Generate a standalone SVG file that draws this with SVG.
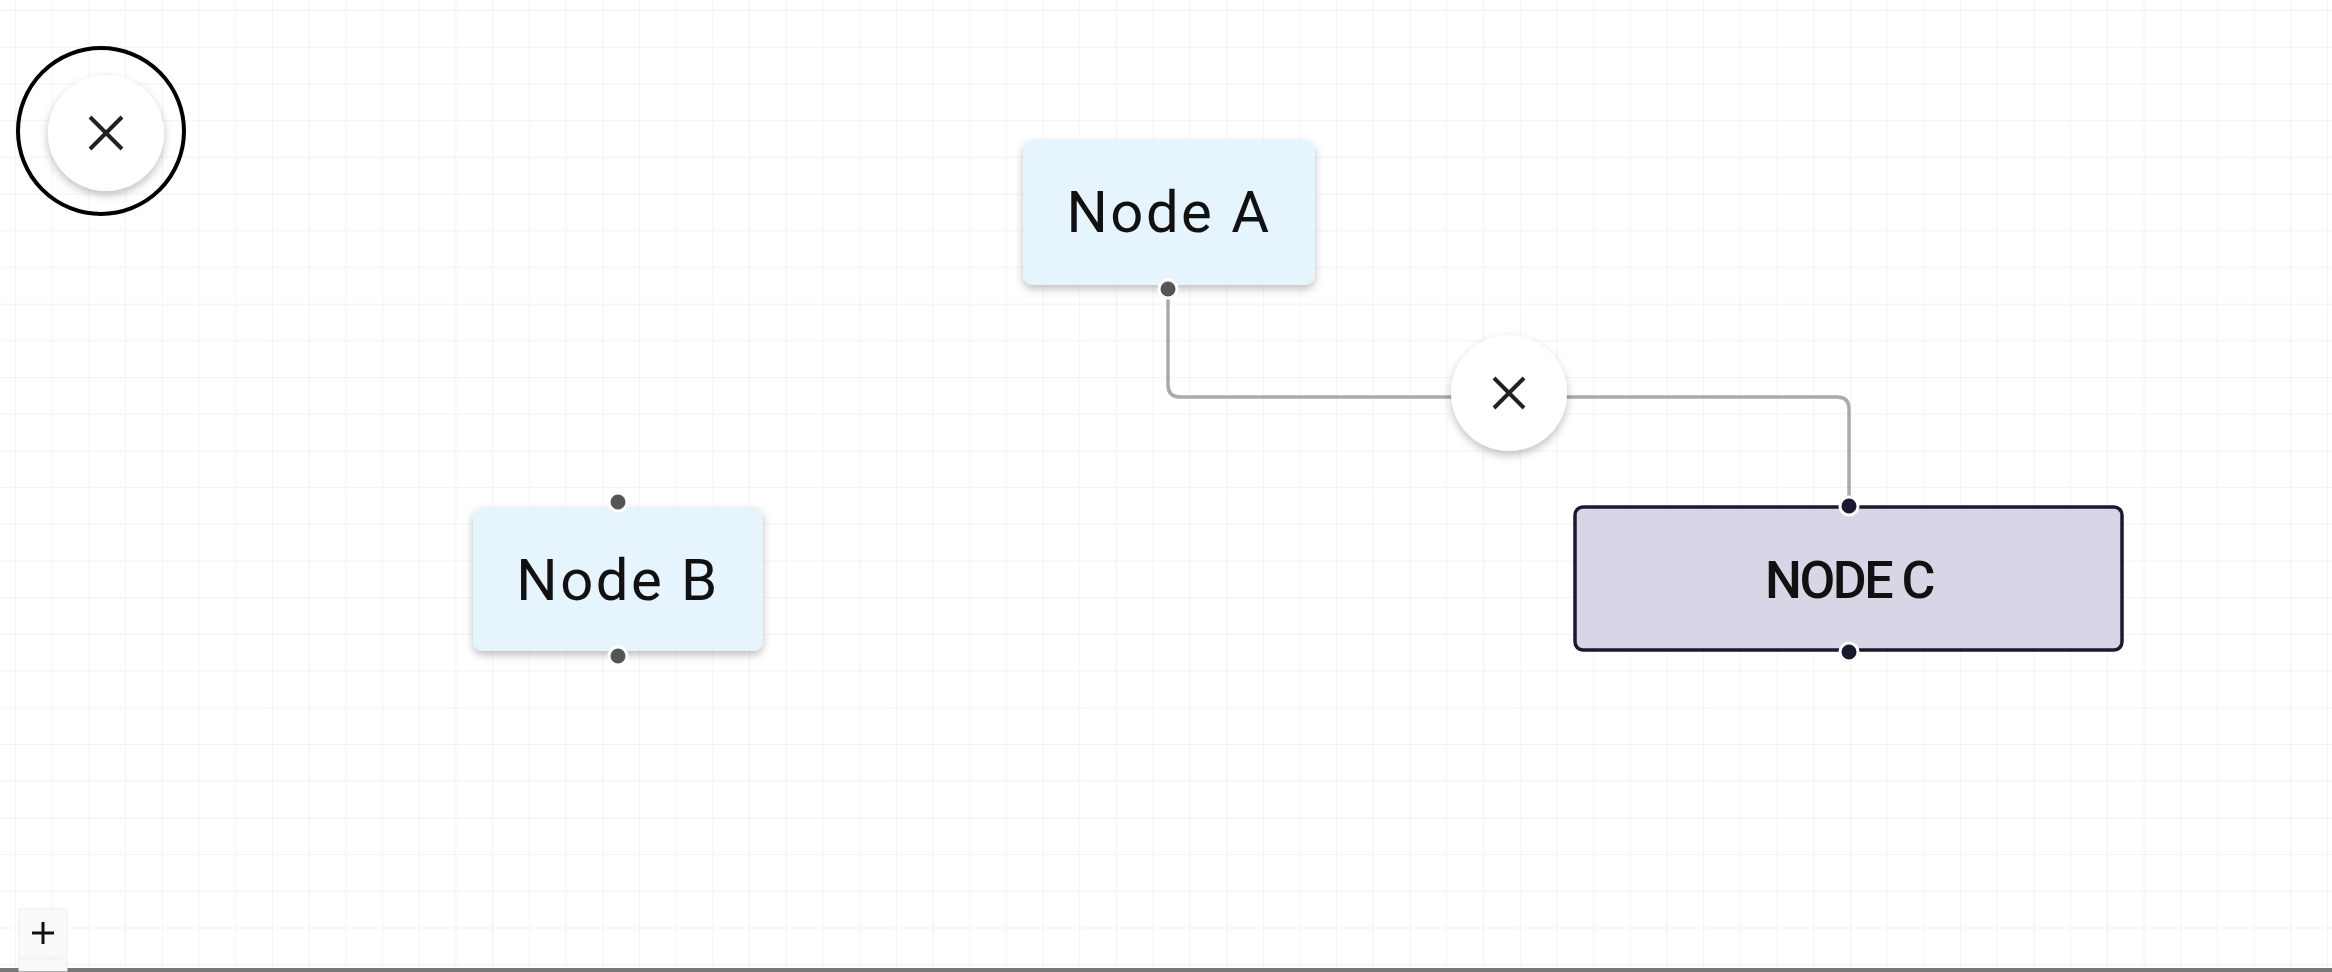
<svg xmlns="http://www.w3.org/2000/svg" width="2332" height="972" viewBox="0 0 2332 972">
<defs>
<pattern id="grid" x="15" y="10" width="36.7" height="36.7" patternUnits="userSpaceOnUse">
<path d="M0 0H36.7M0 0V36.7" fill="none" stroke="#efefef" stroke-width="1.5"/>
</pattern>
<filter id="sh" x="-30%" y="-30%" width="160%" height="160%">
<feDropShadow dx="0" dy="4" stdDeviation="4" flood-color="#000" flood-opacity="0.25"/>
</filter>
</defs>
<style>
.lbl{font-family:Roboto,"Liberation Sans",sans-serif;fill:#111;text-anchor:middle;dominant-baseline:central}
.x{stroke:#222;stroke-width:4;fill:none}
.pg{fill:#555;stroke:#fff;stroke-width:3}
.pd{fill:#1a1a2e;stroke:#fff;stroke-width:3}
</style>
<rect width="2332" height="972" fill="#fff"/>
<rect width="2332" height="972" fill="url(#grid)"/>
<rect x="0" y="968" width="2332" height="4" fill="#777"/>
<g id="close-button">
<circle cx="101" cy="131" r="83" fill="none" stroke="#000" stroke-width="4"/>
<circle cx="106" cy="133" r="58" fill="#fff" filter="url(#sh)"/>
<path class="x" d="M90 117L122 149M122 117L90 149"/>
</g>
<g id="connectors">
<path d="M1168 289V385Q1168 397 1180 397H1837Q1849 397 1849 409V506" fill="none" stroke="#aaa" stroke-width="3.5"/>
</g>
<g id="edge-button">
<circle cx="1509" cy="393" r="58" fill="#fff" filter="url(#sh)"/>
<path class="x" d="M1494 378L1524 408M1524 378L1494 408"/>
</g>
<g id="node-a">
<rect x="1023" y="140" width="292" height="145" rx="10" fill="#e5f4fd" filter="url(#sh)"/>
<text class="lbl" x="1169" y="212" font-size="58" letter-spacing="2.5">Node A</text>
<circle class="pg" cx="1168" cy="289" r="9"/>
</g>
<g id="node-b">
<rect x="473" y="507" width="290" height="144" rx="10" fill="#e5f4fd" filter="url(#sh)"/>
<text class="lbl" x="618" y="580" font-size="58" letter-spacing="2.5">Node B</text>
<circle class="pg" cx="618" cy="502" r="9"/>
<circle class="pg" cx="618" cy="656" r="9"/>
</g>
<g id="node-c">
<rect x="1575" y="507" width="547" height="143" rx="8" fill="#d6d6e6" stroke="#1a1a2e" stroke-width="3.5"/>
<text class="lbl" x="1849" y="580" font-size="52" font-weight="500" letter-spacing="-2.5" fill="#333">NODE C</text>
<circle class="pd" cx="1849" cy="506" r="9"/>
<circle class="pd" cx="1849" cy="652" r="9"/>
</g>
<g id="zoom-controls">
<rect x="19" y="909" width="48" height="48" fill="#fafafa" stroke="#eee"/>
<rect x="19" y="959" width="48" height="12" fill="#fafafa" stroke="#eee"/>
<path d="M32 933H54M43 922V944" stroke="#111" stroke-width="3"/>
</g>
</svg>
